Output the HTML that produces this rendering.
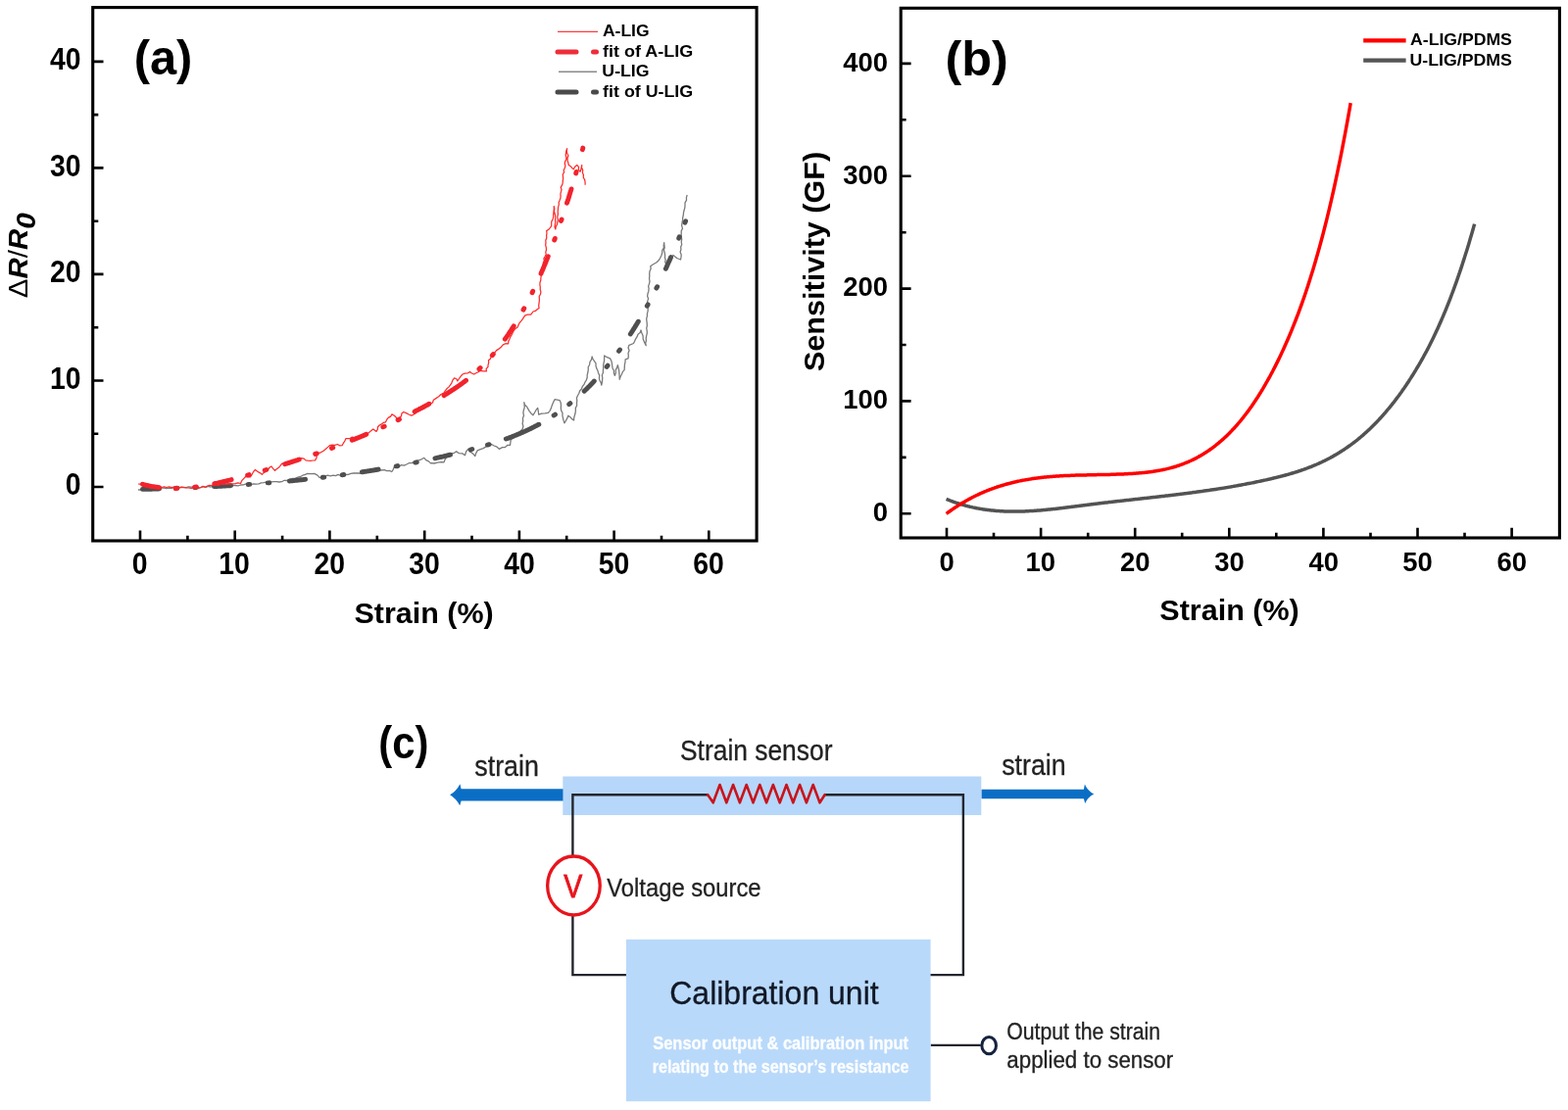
<!DOCTYPE html>
<html><head><meta charset="utf-8"><title>Figure</title><style>
html,body{margin:0;padding:0;background:#fff;overflow:hidden;}
svg{display:block;}
text{font-family:'Liberation Sans', Arial, Helvetica, sans-serif;}
</style></head>
<body><svg width="1600" height="1133" viewBox="0 0 1600 1133">
<rect width="1600" height="1133" fill="#fff"/>
<rect x="94.7" y="7.6" width="677.4" height="544.4" fill="none" stroke="#000" stroke-width="3.1"/>
<path d="M143.0,552.0V541.5 M239.7,552.0V541.5 M336.4,552.0V541.5 M433.2,552.0V541.5 M529.9,552.0V541.5 M626.6,552.0V541.5 M723.3,552.0V541.5 M191.4,552.0V546.8 M288.1,552.0V546.8 M384.8,552.0V546.8 M481.5,552.0V546.8 M578.2,552.0V546.8 M675.0,552.0V546.8 M94.7,497.0H105.5 M94.7,388.5H105.5 M94.7,279.9H105.5 M94.7,171.4H105.5 M94.7,62.9H105.5 M94.7,442.7H100.3 M94.7,334.2H100.3 M94.7,225.7H100.3 M94.7,117.1H100.3" stroke="#000" stroke-width="2.6" fill="none"/>
<text x="134.83" y="585.90" font-size="30.60" font-weight="bold" font-style="normal" fill="#000" textLength="15.78" lengthAdjust="spacingAndGlyphs" >0</text>
<text x="223.33" y="585.90" font-size="30.60" font-weight="bold" font-style="normal" fill="#000" textLength="31.55" lengthAdjust="spacingAndGlyphs" >10</text>
<text x="320.45" y="585.90" font-size="30.60" font-weight="bold" font-style="normal" fill="#000" textLength="31.55" lengthAdjust="spacingAndGlyphs" >20</text>
<text x="417.34" y="585.90" font-size="30.60" font-weight="bold" font-style="normal" fill="#000" textLength="31.55" lengthAdjust="spacingAndGlyphs" >30</text>
<text x="514.17" y="585.90" font-size="30.60" font-weight="bold" font-style="normal" fill="#000" textLength="31.55" lengthAdjust="spacingAndGlyphs" >40</text>
<text x="610.67" y="585.90" font-size="30.60" font-weight="bold" font-style="normal" fill="#000" textLength="31.55" lengthAdjust="spacingAndGlyphs" >50</text>
<text x="707.31" y="585.90" font-size="30.60" font-weight="bold" font-style="normal" fill="#000" textLength="31.55" lengthAdjust="spacingAndGlyphs" >60</text>
<text x="66.69" y="505.20" font-size="30.60" font-weight="bold" font-style="normal" fill="#000" textLength="15.78" lengthAdjust="spacingAndGlyphs" >0</text>
<text x="50.91" y="396.67" font-size="30.60" font-weight="bold" font-style="normal" fill="#000" textLength="31.55" lengthAdjust="spacingAndGlyphs" >10</text>
<text x="50.91" y="288.14" font-size="30.60" font-weight="bold" font-style="normal" fill="#000" textLength="31.55" lengthAdjust="spacingAndGlyphs" >20</text>
<text x="50.91" y="179.61" font-size="30.60" font-weight="bold" font-style="normal" fill="#000" textLength="31.55" lengthAdjust="spacingAndGlyphs" >30</text>
<text x="50.91" y="71.08" font-size="30.60" font-weight="bold" font-style="normal" fill="#000" textLength="31.55" lengthAdjust="spacingAndGlyphs" >40</text>
<text x="361.42" y="636.00" font-size="29.50" font-weight="bold" font-style="normal" fill="#000" textLength="142.30" lengthAdjust="spacingAndGlyphs" >Strain (%)</text>
<text x="136.67" y="76.20" font-size="50.00" font-weight="bold" font-style="normal" fill="#000" textLength="59.66" lengthAdjust="spacingAndGlyphs" >(a)</text>
<g transform="translate(28.4,304.2) rotate(-90)"><text x="0" y="0" font-size="28.5" textLength="87" lengthAdjust="spacingAndGlyphs"><tspan font-weight="normal">&#916;</tspan><tspan font-weight="bold" font-style="italic">R</tspan><tspan font-weight="normal">/</tspan><tspan font-weight="bold" font-style="italic">R</tspan><tspan font-weight="bold" font-style="italic" dy="7.5">0</tspan></text></g>
<path d="M569,32.4H610" stroke="#ff3a3a" stroke-width="1.3"/>
<path d="M569,53H588 M605.5,53H608.5" stroke="#ee2d3a" stroke-width="5" stroke-linecap="round"/>
<path d="M570,73.3H609" stroke="#8a8a8a" stroke-width="1.6"/>
<path d="M569,94H588 M605.5,94H608.5" stroke="#4a4a4a" stroke-width="5" stroke-linecap="round"/>
<text x="614.96" y="37.00" font-size="16.50" font-weight="bold" font-style="normal" fill="#000" textLength="47.62" lengthAdjust="spacingAndGlyphs" >A-LIG</text>
<text x="615.10" y="57.70" font-size="16.50" font-weight="bold" font-style="normal" fill="#000" textLength="92.11" lengthAdjust="spacingAndGlyphs" >fit of A-LIG</text>
<text x="614.33" y="78.40" font-size="16.50" font-weight="bold" font-style="normal" fill="#000" textLength="48.26" lengthAdjust="spacingAndGlyphs" >U-LIG</text>
<text x="615.10" y="98.90" font-size="16.50" font-weight="bold" font-style="normal" fill="#000" textLength="92.11" lengthAdjust="spacingAndGlyphs" >fit of U-LIG</text>
<path d="M141.0,500.0 L144.0,499.8 L147.0,499.7 L150.0,499.0 L152.5,499.3 L155.0,499.4 L157.5,498.9 L160.0,499.1 L162.5,497.7 L165.0,498.2 L167.5,498.1 L170.0,498.7 L172.5,498.2 L175.0,498.5 L177.5,497.3 L180.0,497.8 L182.5,497.7 L185.0,497.3 L187.5,497.7 L190.0,497.7 L192.5,496.9 L195.0,497.1 L197.5,497.1 L200.0,497.4 L202.5,497.9 L205.0,497.6 L207.5,496.6 L210.0,497.4 L212.5,496.4 L215.0,497.0 L217.5,496.2 L220.0,496.6 L222.5,495.8 L225.0,496.8 L227.5,495.8 L230.0,495.7 L232.5,496.6 L235.0,496.3 L237.5,495.3 L240.0,495.5 L242.9,495.8 L245.6,495.0 L248.4,494.8 L251.2,493.9 L254.0,494.0 L256.5,494.4 L259.0,493.9 L261.5,494.1 L264.0,493.8 L266.5,492.8 L269.0,492.7 L271.5,492.2 L274.0,492.5 L276.7,491.8 L279.4,491.6 L282.1,491.7 L284.8,492.0 L287.5,491.7 L290.1,490.3 L293.1,490.5 L295.7,489.3 L298.4,488.5 L301.3,488.4 L304.0,487.2 L306.7,486.5 L308.9,485.2 L311.4,484.4 L313.7,483.4 L317.2,483.7 L320.7,483.4 L323.7,484.9 L326.0,487.4 L328.9,487.3 L331.5,486.0 L334.3,485.1 L337.2,485.8 L340.0,485.2 L342.5,485.6 L345.0,484.4 L347.5,485.5 L350.0,485.0 L352.6,484.5 L355.3,484.4 L357.9,483.3 L360.6,483.0 L363.3,482.9 L366.0,483.0 L368.6,483.3 L370.9,481.9 L373.5,482.4 L376.1,482.3 L378.6,481.9 L381.0,480.8 L383.5,480.5 L386.0,480.4 L388.5,480.0 L392.3,479.6 L394.7,480.6 L397.4,480.3 L399.8,481.5 L401.2,479.4 L402.0,477.0 L404.7,476.8 L407.2,476.3 L409.5,474.6 L412.4,475.2 L414.8,474.0 L417.2,472.7 L420.0,472.5 L424.5,471.5 L427.2,469.9 L430.1,468.8 L432.8,467.3 L434.7,469.6 L437.4,470.9 L439.5,472.9 L440.3,472.6 L442.9,473.0 L445.4,472.3 L447.9,471.9 L450.4,471.7 L453.0,471.8 L454.2,468.8 L456.2,466.2 L458.3,464.3 L460.7,463.0 L463.5,462.3 L465.7,460.7 L468.3,462.7 L471.8,462.9 L474.5,464.7 L475.5,461.2 L477.7,458.3 L479.0,460.6 L481.2,461.9 L483.1,463.6 L484.8,465.5 L485.7,462.6 L487.2,459.9 L490.2,458.7 L493.2,457.6 L495.9,455.9 L498.7,454.6 L501.5,453.5 L504.2,455.0 L507.1,456.2 L509.4,458.3 L512.6,456.7 L515.4,456.5 L517.7,454.5 L520.5,454.3 L520.9,451.5 L521.3,448.8 L523.6,447.3 L524.9,444.7 L527.5,443.5 L529.7,441.9 L531.4,439.7 L533.3,437.7 L533.9,435.0 L533.1,432.3 L533.7,429.6 L533.4,426.9 L534.5,424.2 L533.9,421.5 L534.3,418.8 L535.2,416.1 L535.1,413.4 L534.8,410.7 L535.5,413.2 L537.5,415.0 L538.7,417.1 L540.0,419.3 L541.7,421.7 L543.9,423.7 L545.5,421.3 L546.9,418.7 L548.7,416.4 L549.3,419.8 L549.7,423.2 L552.8,422.1 L556.1,421.8 L559.4,421.3 L561.1,419.3 L562.2,417.1 L563.0,414.6 L563.9,412.2 L564.9,409.9 L566.2,407.7 L571.1,408.6 L572.2,411.1 L572.5,413.7 L572.3,416.4 L572.7,419.1 L574.0,421.5 L573.9,424.2 L574.5,426.8 L575.1,429.4 L575.9,431.9 L577.4,429.4 L578.8,426.9 L579.8,424.2 L581.9,425.7 L583.5,427.6 L585.6,429.0 L585.7,426.4 L586.4,424.0 L587.1,421.5 L587.4,419.0 L587.3,416.4 L588.6,414.0 L588.5,411.4 L588.8,408.9 L588.4,406.2 L589.5,403.8 L590.8,401.5 L591.6,399.0 L593.4,397.0 L594.3,394.5 L596.0,392.4 L597.0,390.0 L598.4,387.8 L599.2,385.3 L599.2,382.6 L599.9,380.0 L600.3,377.4 L600.2,374.7 L601.6,372.2 L602.0,369.3 L603.6,366.8 L604.1,364.0 L605.0,366.5 L606.5,368.7 L608.0,370.8 L608.0,373.4 L608.7,375.9 L609.9,378.2 L610.5,380.7 L611.7,383.1 L611.4,385.8 L611.9,388.3 L613.2,390.6 L613.8,393.1 L614.3,390.6 L614.6,388.1 L614.8,385.6 L614.3,383.0 L615.4,380.6 L615.4,378.1 L615.7,375.6 L615.6,373.0 L616.1,370.5 L616.6,368.1 L616.6,365.5 L616.7,363.0 L619.5,364.7 L622.5,365.9 L623.8,368.2 L624.4,370.8 L624.7,373.4 L625.1,376.0 L626.4,378.3 L626.4,381.0 L627.4,383.4 L628.3,380.8 L628.2,377.9 L629.5,375.4 L630.3,372.7 L631.1,375.6 L631.7,378.5 L631.9,381.4 L632.1,384.3 L632.2,387.3 L633.0,384.7 L634.3,382.3 L635.3,379.7 L637.1,377.6 L637.3,374.9 L637.4,372.2 L638.0,369.6 L638.1,366.9 L641.0,365.9 L641.3,363.2 L641.0,360.4 L642.1,357.8 L641.0,355.0 L641.9,352.3 L646.5,350.5 L647.6,348.2 L648.7,345.8 L650.1,343.7 L651.0,341.2 L653.2,339.5 L654.0,337.0 L654.9,340.0 L656.1,342.8 L656.2,346.0 L657.6,349.4 L659.2,352.7 L658.7,350.2 L659.4,347.7 L659.2,345.2 L659.7,342.7 L660.3,340.2 L660.2,337.6 L659.7,335.1 L660.3,332.6 L660.2,330.1 L659.9,327.6 L659.7,325.1 L660.4,322.6 L660.4,320.1 L661.1,317.6 L661.2,315.0 L660.8,312.5 L660.7,310.0 L660.7,307.4 L661.6,304.9 L660.6,302.3 L661.0,299.7 L661.8,297.2 L662.1,294.7 L661.6,292.1 L662.5,289.6 L663.0,287.1 L662.5,284.5 L662.8,281.9 L662.7,279.3 L663.0,276.8 L664.2,274.3 L663.7,271.7 L666.6,269.7 L669.7,268.0 L672.0,265.9 L673.7,263.3 L675.0,260.5 L675.7,258.0 L675.8,255.3 L677.3,253.0 L677.2,250.3 L677.7,247.7 L677.9,250.2 L678.2,252.8 L677.4,255.3 L678.2,257.8 L678.6,260.4 L678.5,262.9 L679.1,265.4 L678.7,268.0 L681.7,269.5 L683.2,267.3 L684.3,265.0 L685.4,262.6 L687.0,260.5 L690.7,263.5 L694.5,265.0 L695.0,262.4 L695.2,259.9 L694.1,257.3 L694.9,254.7 L694.7,252.1 L695.7,249.6 L695.2,247.0 L695.7,244.2 L695.1,241.4 L695.2,238.6 L695.2,235.8 L696.5,233.1 L695.6,230.3 L696.0,227.5 L696.5,224.9 L696.7,222.2 L697.3,219.7 L697.5,217.0 L698.1,214.5 L698.8,212.1 L699.0,209.5 L699.0,206.8 L700.5,204.3 L700.4,201.6 L701.2,199.0" stroke="#7a7a7a" stroke-width="1.3" fill="none" stroke-linejoin="round"/>
<path d="M145.4,499.4 L146.5,499.4 L147.6,499.4 L148.8,499.3 L150.0,499.3 L151.1,499.3 L152.3,499.2 L153.4,499.2 L154.6,499.2 L155.8,499.1 L156.9,499.1 L158.1,499.1 L159.2,499.0 L160.4,499.0 L161.6,499.0 L162.6,498.9 M179.2,498.4 L180.3,498.3 L180.8,498.3 M198.7,497.6 L199.7,497.5 L200.3,497.5 M218.4,496.6 L219.4,496.6 L220.4,496.5 L221.3,496.5 L222.3,496.4 L223.3,496.4 L224.2,496.3 L225.2,496.3 L226.2,496.2 L227.1,496.1 L228.1,496.1 L229.1,496.0 L230.0,496.0 L231.0,495.9 L232.0,495.9 L232.9,495.8 L233.9,495.7 L234.9,495.7 L235.6,495.6 M253.2,494.5 L254.2,494.4 L254.8,494.4 M273.2,492.9 L274.2,492.9 L274.8,492.8 M295.4,491.0 L296.4,490.9 L297.4,490.8 L298.3,490.7 L299.3,490.6 L300.3,490.5 L301.2,490.4 L302.2,490.3 L303.2,490.2 L304.1,490.1 L305.1,490.0 L306.1,489.9 L307.0,489.8 L308.0,489.7 L309.0,489.6 L309.9,489.5 L310.9,489.4 L311.6,489.3 M329.2,487.3 L330.2,487.2 L330.8,487.1 M349.2,484.7 L350.2,484.6 L350.8,484.5 M369.4,481.8 L370.3,481.7 L371.3,481.5 L372.2,481.4 L373.2,481.2 L374.2,481.1 L375.1,480.9 L376.1,480.8 L377.1,480.6 L378.0,480.4 L379.0,480.3 L380.0,480.1 L380.9,480.0 L381.9,479.8 L382.9,479.7 L383.8,479.5 L384.8,479.3 L385.8,479.2 L386.1,479.1 M404.2,475.9 L405.1,475.8 L405.8,475.6 M423.7,472.1 L424.6,472.0 L425.3,471.8 M443.9,467.8 L444.8,467.6 L445.7,467.4 L446.7,467.2 L447.7,467.0 L448.6,466.7 L449.6,466.5 L450.6,466.3 L451.5,466.1 L452.5,465.9 L453.5,465.6 L454.4,465.4 L455.4,465.2 L456.4,464.9 L457.3,464.7 L458.3,464.5 L459.3,464.2 L459.6,464.2 M480.2,459.0 L481.1,458.7 L481.8,458.5 M497.5,454.1 L498.3,453.9 L499.1,453.7 M516.3,448.0 L517.1,447.7 L517.9,447.5 L518.7,447.2 L519.4,446.9 L520.2,446.6 L521.0,446.3 L521.8,446.0 L522.5,445.7 L523.3,445.4 L524.1,445.1 L524.9,444.8 L525.6,444.5 L526.4,444.2 L527.2,443.9 L527.9,443.5 L528.7,443.2 L529.5,442.9 L530.3,442.6 L531.0,442.2 L531.8,441.9 L532.6,441.6 L533.4,441.2 L534.1,440.9 L534.9,440.5 L535.7,440.2 L536.5,439.8 L537.2,439.5 L538.0,439.1 L538.8,438.8 L539.6,438.4 L540.3,438.0 L541.1,437.7 L541.9,437.3 L542.6,436.9 L543.4,436.5 L544.2,436.1 L545.0,435.7 L545.7,435.3 L546.5,434.9 L547.3,434.5 L548.1,434.1 L548.8,433.7 L549.6,433.3 L549.9,433.2 M565.1,424.0 L565.9,423.5 L566.5,423.1 M580.7,412.7 L581.3,412.2 L581.9,411.7 L581.9,411.7 M596.2,399.2 L596.8,398.6 L597.4,398.1 L598.0,397.5 L598.6,396.9 L599.1,396.4 L599.7,395.8 L600.3,395.2 L600.9,394.6 L601.5,394.1 L602.0,393.5 L602.6,392.9 L603.2,392.3 L603.8,391.7 L604.4,391.1 L604.9,390.5 L605.5,389.9 L606.1,389.2 L606.3,389.0 M619.1,374.4 L619.6,373.8 L620.1,373.2 M631.5,358.3 L632.0,357.6 L632.5,357.0 M643.3,341.0 L643.8,340.2 L644.4,339.3 L645.0,338.4 L645.6,337.5 L645.9,336.9 L646.3,336.3 L646.7,335.7 L647.1,335.0 L647.5,334.4 L647.9,333.8 L648.3,333.2 L648.7,332.5 L649.0,331.9 L649.4,331.3 L649.8,330.6 L650.2,330.0 L650.6,329.3 L651.0,328.7 L651.3,328.2 M660.3,312.3 L660.8,311.4 L661.1,310.9 M669.8,294.1 L670.3,293.2 L670.6,292.7 M679.3,274.3 L679.8,273.3 L680.2,272.4 L680.6,271.5 L681.0,270.7 L681.3,269.8 L681.7,269.0 L682.1,268.1 L682.5,267.2 L682.9,266.4 L683.3,265.5 L683.7,264.6 L684.1,263.7 L684.4,262.8 L684.5,262.7 M692.7,243.2 L693.1,242.1 L693.3,241.7 M699.0,227.2 L699.3,226.4 L699.6,225.7" stroke="#4f4f4f" stroke-width="4.9" fill="none" stroke-linecap="round" stroke-linejoin="round"/>
<path d="M141.0,494.0 L143.3,494.2 L145.6,494.5 L147.7,495.7 L150.0,496.0 L152.6,495.7 L155.0,496.8 L157.5,496.9 L160.0,497.5 L162.5,496.8 L165.0,497.5 L167.5,496.8 L170.0,497.5 L172.5,496.9 L175.0,497.6 L177.5,497.0 L180.0,497.5 L182.5,498.2 L185.0,497.1 L187.5,497.3 L190.0,497.8 L192.5,498.0 L195.0,498.4 L197.5,497.8 L200.0,497.4 L202.5,498.3 L205.0,497.5 L207.1,496.4 L209.5,497.3 L211.5,496.0 L213.7,495.3 L216.0,495.5 L218.3,494.6 L220.6,494.7 L223.1,495.3 L225.3,494.0 L227.7,494.4 L230.0,494.0 L232.5,494.1 L235.0,493.6 L237.5,493.8 L240.0,493.6 L242.7,492.9 L245.5,493.5 L246.7,490.7 L248.6,488.6 L250.7,486.5 L255.0,487.0 L256.6,485.3 L257.6,483.2 L258.8,481.2 L260.4,479.5 L262.7,481.2 L265.1,482.6 L267.4,484.3 L269.1,482.4 L271.5,481.3 L273.4,479.6 L274.8,477.4 L277.0,476.0 L278.7,478.3 L280.5,480.4 L282.3,478.7 L284.4,477.3 L286.0,475.4 L287.5,473.4 L289.8,472.5 L292.4,472.9 L294.5,471.0 L297.0,471.0 L299.1,470.2 L301.4,470.1 L303.2,468.5 L305.5,468.3 L307.6,467.7 L310.1,468.1 L312.0,469.9 L314.4,470.2 L316.8,470.3 L319.2,470.0 L321.6,469.9 L323.1,467.0 L323.4,463.7 L325.5,462.3 L327.9,461.6 L330.0,460.2 L332.2,458.5 L334.3,456.6 L336.4,454.7 L339.0,454.2 L341.7,454.4 L344.3,453.5 L346.5,454.8 L349.1,454.7 L350.4,452.3 L351.9,450.0 L353.0,447.5 L357.0,447.5 L359.1,446.2 L361.6,446.6 L363.8,445.9 L366.0,445.0 L368.7,445.0 L371.1,444.0 L373.4,442.4 L376.0,442.0 L378.3,439.9 L380.8,438.0 L384.0,440.4 L385.3,438.4 L385.5,435.8 L387.2,434.0 L389.3,432.9 L391.2,431.4 L393.5,430.8 L394.6,428.4 L396.2,426.4 L398.6,425.1 L399.9,422.9 L402.4,424.3 L404.4,426.3 L406.3,428.5 L407.5,426.4 L409.5,424.8 L409.9,422.1 L411.8,420.5 L414.5,421.6 L417.1,423.0 L419.8,424.1 L421.9,423.2 L423.6,421.8 L425.0,420.0 L427.3,419.2 L428.8,417.2 L430.9,416.1 L433.0,415.0 L435.0,413.9 L437.4,413.7 L439.2,412.2 L441.5,411.0 L442.3,408.3 L444.5,406.9 L447.7,404.8 L450.0,402.5 L453.0,401.0 L454.3,398.8 L455.9,396.8 L457.8,395.1 L459.4,393.2 L460.9,390.8 L461.9,388.1 L463.6,385.8 L465.8,386.8 L466.8,388.9 L468.4,386.5 L470.1,384.2 L472.0,382.0 L474.5,381.2 L477.2,381.0 L479.5,379.4 L481.4,381.0 L483.7,382.0 L485.8,380.8 L488.1,379.7 L490.1,378.3 L493.2,378.9 L496.4,378.9 L496.1,376.5 L497.9,374.6 L498.1,372.3 L498.7,370.1 L498.5,367.8 L500.4,366.2 L501.4,363.8 L503.0,362.0 L504.9,359.9 L506.6,357.6 L509.1,356.1 L511.4,354.2 L513.3,351.9 L515.8,350.7 L518.6,350.8 L518.8,348.4 L519.9,346.3 L520.7,344.1 L521.9,342.1 L523.0,340.0 L524.2,337.5 L525.9,335.4 L528.2,333.9 L529.1,331.5 L530.3,329.3 L532.0,327.4 L533.5,325.4 L535.6,322.2 L538.5,321.0 L541.7,321.2 L544.0,318.0 L546.3,317.4 L548.2,315.8 L550.1,314.5 L549.7,312.1 L550.0,309.7 L550.3,307.4 L550.4,305.0 L550.2,302.6 L551.5,300.3 L551.9,297.9 L551.2,295.5 L551.3,293.1 L550.9,290.7 L551.0,288.3 L551.8,286.0 L551.9,283.8 L552.2,281.5 L553.5,279.5 L552.8,277.1 L553.0,274.9 L554.8,272.9 L554.5,270.6 L554.3,268.3 L555.3,266.2 L554.9,263.9 L556.1,261.8 L557.2,259.7 L556.8,257.4 L557.5,255.0 L557.3,252.6 L556.7,250.1 L557.0,247.7 L556.8,245.3 L557.8,242.9 L557.6,240.4 L558.0,238.0 L557.7,235.6 L560.2,234.0 L562.7,230.6 L562.7,228.3 L562.8,226.1 L564.0,224.0 L564.6,221.8 L564.6,219.5 L564.9,217.3 L565.1,215.0 L565.3,212.8 L565.2,210.5 L565.8,212.8 L565.5,215.2 L565.9,217.5 L566.6,219.8 L566.8,222.2 L566.6,224.6 L566.8,226.9 L566.3,229.3 L566.0,231.7 L566.9,234.0 L567.2,231.5 L568.4,229.1 L568.9,226.6 L569.3,224.1 L568.8,221.4 L569.4,218.9 L569.2,216.3 L569.4,213.8 L569.6,211.3 L570.3,208.8 L570.2,206.5 L571.1,204.4 L571.9,202.3 L572.1,200.1 L571.9,197.8 L572.5,195.7 L573.0,193.5 L572.2,191.1 L573.5,189.1 L574.2,186.9 L574.3,184.7 L574.6,182.5 L574.5,180.2 L574.3,178.0 L575.6,175.9 L575.2,173.6 L576.3,171.5 L576.9,169.4 L576.3,167.0 L576.6,164.9 L577.8,162.8 L577.8,160.5 L577.2,158.2 L577.5,156.0 L577.8,153.8 L578.7,151.7 L578.3,154.2 L578.7,156.5 L579.9,158.8 L579.1,161.3 L579.1,163.8 L579.8,166.1 L580.3,168.5 L582.2,169.7 L583.7,171.4 L585.4,172.7 L586.6,170.2 L588.7,168.5 L590.5,170.4 L590.3,173.3 L592.1,175.2 L592.9,173.0 L593.3,170.7 L593.8,168.5 L593.5,171.1 L594.7,173.5 L594.4,176.2 L595.4,178.6 L595.3,181.2 L596.7,183.6 L597.1,186.1 L597.1,188.7" stroke="#ff2a2a" stroke-width="1.25" fill="none" stroke-linejoin="round"/>
<path d="M145.4,494.3 L146.3,494.5 L147.3,494.8 L148.2,495.0 L149.2,495.3 L150.2,495.5 L151.1,495.7 L152.1,495.9 L153.1,496.1 L154.0,496.3 L155.0,496.5 L156.0,496.6 L156.9,496.8 L157.9,496.9 L158.9,497.1 L159.8,497.2 L160.8,497.4 L161.8,497.5 L162.6,497.6 M179.2,498.5 L180.3,498.4 L180.8,498.4 M198.7,497.1 L199.7,497.0 L200.3,496.9 M218.8,493.7 L219.8,493.5 L220.8,493.3 L221.7,493.1 L222.7,492.9 L223.7,492.6 L224.6,492.4 L225.6,492.2 L226.6,492.0 L227.5,491.7 L228.5,491.5 L229.5,491.3 L230.4,491.0 L231.4,490.8 L232.4,490.5 L233.3,490.3 L234.3,490.1 L235.3,489.8 L236.1,489.6 M252.6,485.1 L253.5,484.8 L254.2,484.6 M270.2,480.0 L271.1,479.7 L271.8,479.5 M290.7,473.7 L291.6,473.4 L292.3,473.2 L293.1,473.0 L293.9,472.7 L294.7,472.5 L295.4,472.2 L296.2,472.0 L297.0,471.7 L297.8,471.5 L298.5,471.2 L299.3,471.0 L300.1,470.7 L300.8,470.5 L301.6,470.2 L302.4,470.0 L303.2,469.7 L303.9,469.4 L304.7,469.2 L305.3,469.0 M321.7,463.4 L322.5,463.1 L323.3,462.9 M338.4,457.4 L339.1,457.1 L339.8,456.9 M359.3,449.3 L360.0,449.0 L360.8,448.7 L361.6,448.4 L362.4,448.1 L363.1,447.8 L363.9,447.4 L364.7,447.1 L365.5,446.8 L366.2,446.5 L367.0,446.2 L367.8,445.9 L368.6,445.5 L369.3,445.2 L370.1,444.9 L370.9,444.6 L371.6,444.2 L372.4,443.9 L373.2,443.6 L373.8,443.3 M390.8,435.8 L391.6,435.5 L392.2,435.2 M406.1,428.7 L406.9,428.3 L407.5,428.0 M423.1,420.2 L423.9,419.8 L424.6,419.3 L425.4,418.9 L426.2,418.5 L427.0,418.1 L427.7,417.7 L428.5,417.3 L429.3,416.9 L430.1,416.5 L430.8,416.1 L431.6,415.7 L432.4,415.3 L433.2,414.8 L433.9,414.4 L434.7,414.0 L435.5,413.6 L436.3,413.2 L437.0,412.7 L437.8,412.3 L437.9,412.3 M453.1,403.6 L453.9,403.1 L454.6,402.6 L455.4,402.2 L456.2,401.7 L457.0,401.2 L457.7,400.7 L458.5,400.2 L459.3,399.7 L460.0,399.2 L460.8,398.7 L461.6,398.2 L462.4,397.7 L463.1,397.2 L463.9,396.7 L464.7,396.2 L465.5,395.6 L466.2,395.1 L467.0,394.6 L467.8,394.0 L468.6,393.5 L469.3,392.9 L469.9,392.5 L470.5,392.1 L471.1,391.6 L471.7,391.2 L472.2,390.8 L472.8,390.3 L473.4,389.9 L474.0,389.5 L474.6,389.0 L475.1,388.6 L475.5,388.3 M488.9,376.7 L489.5,376.2 L490.0,375.7 L490.1,375.6 M502.3,362.7 L502.8,362.1 L503.3,361.5 M515.3,346.1 L515.8,345.5 L516.3,344.7 L516.9,343.9 L517.5,343.0 L518.1,342.2 L518.7,341.3 L519.2,340.5 L519.8,339.6 L520.4,338.7 L521.0,337.9 L521.6,337.0 L522.1,336.1 L522.7,335.2 L523.3,334.3 L523.9,333.4 L524.2,332.9 M534.0,316.2 L534.5,315.3 L534.8,314.8 M543.1,298.7 L543.4,298.0 L543.7,297.3 M552.0,279.3 L552.3,278.5 L552.7,277.6 L553.1,276.7 L553.5,275.8 L553.9,274.9 L554.3,274.0 L554.6,273.1 L555.0,272.2 L555.4,271.2 L555.8,270.3 L556.2,269.4 L556.6,268.4 L557.0,267.5 L557.3,266.5 L557.7,265.6 L558.1,264.6 L558.5,263.7 L558.9,262.7 L559.3,261.7 L559.3,261.7 M565.7,244.9 L566.1,244.0 L566.3,243.4 M572.5,225.5 L572.8,224.7 L573.1,224.0 M578.5,207.2 L578.8,206.4 L579.2,205.1 L579.6,203.9 L580.0,202.7 L580.4,201.4 L580.8,200.2 L581.1,198.9 L581.5,197.7 L581.9,196.4 L582.3,195.1 L582.7,193.9 L583.0,192.9 M587.7,176.9 L587.9,176.1 L588.1,175.4 M594.4,152.7 L594.7,151.6 L594.8,151.1" stroke="#f2232d" stroke-width="4.9" fill="none" stroke-linecap="round" stroke-linejoin="round"/>
<rect x="919.2" y="8.3" width="672.2" height="540.7" fill="none" stroke="#000" stroke-width="3.1"/>
<path d="M966.0,549.0V538.8 M1062.1,549.0V538.8 M1158.2,549.0V538.8 M1254.3,549.0V538.8 M1350.4,549.0V538.8 M1446.5,549.0V538.8 M1542.6,549.0V538.8 M1014.0,549.0V543.8 M1110.2,549.0V543.8 M1206.2,549.0V543.8 M1302.3,549.0V543.8 M1398.5,549.0V543.8 M1494.5,549.0V543.8 M919.2,524.3H929.6 M919.2,409.4H929.6 M919.2,294.6H929.6 M919.2,179.7H929.6 M919.2,64.9H929.6 M919.2,466.9H924.6 M919.2,352.0H924.6 M919.2,237.2H924.6 M919.2,122.3H924.6" stroke="#000" stroke-width="2.6" fill="none"/>
<text x="958.39" y="582.50" font-size="28.30" font-weight="bold" font-style="normal" fill="#000" textLength="15.27" lengthAdjust="spacingAndGlyphs" >0</text>
<text x="1046.53" y="582.50" font-size="28.30" font-weight="bold" font-style="normal" fill="#000" textLength="30.53" lengthAdjust="spacingAndGlyphs" >10</text>
<text x="1143.02" y="582.50" font-size="28.30" font-weight="bold" font-style="normal" fill="#000" textLength="30.53" lengthAdjust="spacingAndGlyphs" >20</text>
<text x="1239.28" y="582.50" font-size="28.30" font-weight="bold" font-style="normal" fill="#000" textLength="30.53" lengthAdjust="spacingAndGlyphs" >30</text>
<text x="1335.49" y="582.50" font-size="28.30" font-weight="bold" font-style="normal" fill="#000" textLength="30.53" lengthAdjust="spacingAndGlyphs" >40</text>
<text x="1431.37" y="582.50" font-size="28.30" font-weight="bold" font-style="normal" fill="#000" textLength="30.53" lengthAdjust="spacingAndGlyphs" >50</text>
<text x="1527.39" y="582.50" font-size="28.30" font-weight="bold" font-style="normal" fill="#000" textLength="30.53" lengthAdjust="spacingAndGlyphs" >60</text>
<text x="890.66" y="532.10" font-size="28.30" font-weight="bold" font-style="normal" fill="#000" textLength="15.27" lengthAdjust="spacingAndGlyphs" >0</text>
<text x="860.13" y="417.25" font-size="28.30" font-weight="bold" font-style="normal" fill="#000" textLength="45.80" lengthAdjust="spacingAndGlyphs" >100</text>
<text x="860.13" y="302.40" font-size="28.30" font-weight="bold" font-style="normal" fill="#000" textLength="45.80" lengthAdjust="spacingAndGlyphs" >200</text>
<text x="860.13" y="187.55" font-size="28.30" font-weight="bold" font-style="normal" fill="#000" textLength="45.80" lengthAdjust="spacingAndGlyphs" >300</text>
<text x="860.13" y="72.70" font-size="28.30" font-weight="bold" font-style="normal" fill="#000" textLength="45.80" lengthAdjust="spacingAndGlyphs" >400</text>
<text x="1183.32" y="633.00" font-size="29.50" font-weight="bold" font-style="normal" fill="#000" textLength="142.40" lengthAdjust="spacingAndGlyphs" >Strain (%)</text>
<text x="964.49" y="76.70" font-size="49.50" font-weight="bold" font-style="normal" fill="#000" textLength="64.32" lengthAdjust="spacingAndGlyphs" >(b)</text>
<g transform="translate(840.6,0) rotate(-90)">
<text x="-379.08" y="0.00" font-size="29.50" font-weight="bold" font-style="normal" fill="#000" textLength="224.20" lengthAdjust="spacingAndGlyphs" >Sensitivity (GF)</text>
</g>
<path d="M1391.2,41.3H1434.6" stroke="#ff0000" stroke-width="4.2"/>
<path d="M1391.2,61.6H1434.6" stroke="#555" stroke-width="4.2"/>
<text x="1439.06" y="45.90" font-size="16.50" font-weight="bold" font-style="normal" fill="#000" textLength="103.83" lengthAdjust="spacingAndGlyphs" >A-LIG/PDMS</text>
<text x="1438.43" y="66.60" font-size="16.50" font-weight="bold" font-style="normal" fill="#000" textLength="104.46" lengthAdjust="spacingAndGlyphs" >U-LIG/PDMS</text>
<path d="M965.6,509.4 L966.6,509.8 L967.6,510.2 L968.6,510.6 L969.6,511.0 L970.6,511.4 L971.6,511.8 L972.6,512.1 L973.6,512.5 L974.6,512.8 L975.6,513.2 L976.6,513.5 L977.6,513.8 L978.6,514.1 L979.6,514.5 L980.6,514.8 L981.6,515.1 L982.6,515.3 L983.6,515.6 L984.6,515.9 L985.6,516.2 L986.6,516.4 L987.6,516.7 L988.6,516.9 L989.6,517.2 L990.6,517.4 L991.6,517.6 L992.6,517.9 L993.6,518.1 L994.6,518.3 L995.6,518.5 L996.6,518.7 L997.6,518.9 L998.6,519.1 L999.6,519.2 L1000.6,519.4 L1001.6,519.6 L1002.6,519.7 L1003.6,519.9 L1004.6,520.0 L1005.6,520.2 L1006.6,520.3 L1007.6,520.5 L1008.6,520.6 L1009.6,520.7 L1010.6,520.8 L1011.6,520.9 L1012.6,521.0 L1013.6,521.1 L1014.6,521.2 L1015.6,521.3 L1016.6,521.4 L1017.6,521.5 L1018.6,521.6 L1019.6,521.6 L1020.6,521.7 L1021.6,521.7 L1022.6,521.8 L1023.6,521.8 L1024.6,521.9 L1025.6,521.9 L1026.6,522.0 L1027.6,522.0 L1028.6,522.0 L1029.6,522.0 L1030.6,522.1 L1031.6,522.1 L1032.6,522.1 L1033.6,522.1 L1034.6,522.1 L1035.6,522.1 L1036.6,522.1 L1037.6,522.1 L1038.6,522.1 L1039.6,522.1 L1040.6,522.0 L1041.6,522.0 L1042.6,522.0 L1043.6,522.0 L1044.6,521.9 L1045.6,521.9 L1046.6,521.8 L1047.6,521.8 L1048.6,521.7 L1049.6,521.7 L1050.6,521.6 L1051.6,521.6 L1052.6,521.5 L1053.6,521.5 L1054.6,521.4 L1055.6,521.3 L1056.6,521.3 L1057.6,521.2 L1058.6,521.1 L1059.6,521.0 L1060.6,521.0 L1061.6,520.9 L1062.6,520.8 L1063.6,520.7 L1064.6,520.6 L1065.6,520.5 L1066.6,520.4 L1067.6,520.3 L1068.6,520.2 L1069.6,520.1 L1070.6,520.0 L1071.6,519.9 L1072.6,519.8 L1073.6,519.7 L1074.6,519.6 L1075.6,519.5 L1076.6,519.4 L1077.6,519.3 L1078.6,519.2 L1079.6,519.0 L1080.6,518.9 L1081.6,518.8 L1082.6,518.7 L1083.6,518.6 L1084.6,518.4 L1085.6,518.3 L1086.6,518.2 L1087.6,518.1 L1088.6,518.0 L1089.6,517.8 L1090.6,517.7 L1091.6,517.6 L1092.6,517.4 L1093.6,517.3 L1094.6,517.2 L1095.6,517.1 L1096.6,516.9 L1097.6,516.8 L1098.6,516.7 L1099.6,516.6 L1100.6,516.4 L1101.6,516.3 L1102.6,516.2 L1103.6,516.0 L1104.6,515.9 L1105.6,515.8 L1106.6,515.7 L1107.6,515.5 L1108.6,515.4 L1109.6,515.3 L1110.6,515.2 L1111.6,515.0 L1112.6,514.9 L1113.6,514.8 L1114.6,514.7 L1115.6,514.5 L1116.6,514.4 L1117.6,514.3 L1118.6,514.2 L1119.6,514.1 L1120.6,513.9 L1121.6,513.8 L1122.6,513.7 L1123.6,513.6 L1124.6,513.5 L1125.6,513.3 L1126.6,513.2 L1127.6,513.1 L1128.6,513.0 L1129.6,512.9 L1130.6,512.8 L1131.6,512.6 L1132.6,512.5 L1133.6,512.4 L1134.6,512.3 L1135.6,512.2 L1136.6,512.1 L1137.6,512.0 L1138.6,511.8 L1139.6,511.7 L1140.6,511.6 L1141.6,511.5 L1142.6,511.4 L1143.6,511.3 L1144.6,511.2 L1145.6,511.1 L1146.6,510.9 L1147.6,510.8 L1148.6,510.7 L1149.6,510.6 L1150.6,510.5 L1151.6,510.4 L1152.6,510.3 L1153.6,510.2 L1154.6,510.1 L1155.6,509.9 L1156.6,509.8 L1157.6,509.7 L1158.6,509.6 L1159.6,509.5 L1160.6,509.4 L1161.6,509.3 L1162.6,509.2 L1163.6,509.1 L1164.6,509.0 L1165.6,508.8 L1166.6,508.7 L1167.6,508.6 L1168.6,508.5 L1169.6,508.4 L1170.6,508.3 L1171.6,508.2 L1172.6,508.1 L1173.6,507.9 L1174.6,507.8 L1175.6,507.7 L1176.6,507.6 L1177.6,507.5 L1178.6,507.4 L1179.6,507.3 L1180.6,507.2 L1181.6,507.0 L1182.6,506.9 L1183.6,506.8 L1184.6,506.7 L1185.6,506.6 L1186.6,506.5 L1187.6,506.4 L1188.6,506.2 L1189.6,506.1 L1190.6,506.0 L1191.6,505.9 L1192.6,505.8 L1193.6,505.7 L1194.6,505.5 L1195.6,505.4 L1196.6,505.3 L1197.6,505.2 L1198.6,505.1 L1199.6,504.9 L1200.6,504.8 L1201.6,504.7 L1202.6,504.6 L1203.6,504.4 L1204.6,504.3 L1205.6,504.2 L1206.6,504.1 L1207.6,503.9 L1208.6,503.8 L1209.6,503.7 L1210.6,503.6 L1211.6,503.4 L1212.6,503.3 L1213.6,503.2 L1214.6,503.0 L1215.6,502.9 L1216.6,502.8 L1217.6,502.6 L1218.6,502.5 L1219.6,502.4 L1220.6,502.2 L1221.6,502.1 L1222.6,502.0 L1223.6,501.8 L1224.6,501.7 L1225.6,501.6 L1226.6,501.4 L1227.6,501.3 L1228.6,501.1 L1229.6,501.0 L1230.6,500.8 L1231.6,500.7 L1232.6,500.6 L1233.6,500.4 L1234.6,500.3 L1235.6,500.1 L1236.6,500.0 L1237.6,499.8 L1238.6,499.7 L1239.6,499.5 L1240.6,499.4 L1241.6,499.2 L1242.6,499.1 L1243.6,498.9 L1244.6,498.7 L1245.6,498.6 L1246.6,498.4 L1247.6,498.3 L1248.6,498.1 L1249.6,497.9 L1250.6,497.8 L1251.6,497.6 L1252.6,497.4 L1253.6,497.3 L1254.6,497.1 L1255.6,496.9 L1256.6,496.8 L1257.6,496.6 L1258.6,496.4 L1259.6,496.2 L1260.6,496.1 L1261.6,495.9 L1262.6,495.7 L1263.6,495.5 L1264.6,495.3 L1265.6,495.2 L1266.6,495.0 L1267.6,494.8 L1268.6,494.6 L1269.6,494.4 L1270.6,494.2 L1271.6,494.0 L1272.6,493.8 L1273.6,493.6 L1274.6,493.5 L1275.6,493.3 L1276.6,493.1 L1277.6,492.9 L1278.6,492.7 L1279.6,492.5 L1280.6,492.2 L1281.6,492.0 L1282.6,491.8 L1283.6,491.6 L1284.6,491.4 L1285.6,491.2 L1286.6,491.0 L1287.6,490.8 L1288.6,490.6 L1289.6,490.3 L1290.6,490.1 L1291.6,489.9 L1292.6,489.7 L1293.6,489.4 L1294.6,489.2 L1295.6,489.0 L1296.6,488.8 L1297.6,488.5 L1298.6,488.3 L1299.6,488.0 L1300.6,487.8 L1301.6,487.6 L1302.6,487.3 L1303.6,487.1 L1304.6,486.8 L1305.6,486.6 L1306.6,486.3 L1307.6,486.1 L1308.6,485.8 L1309.6,485.5 L1310.6,485.3 L1311.6,485.0 L1312.6,484.7 L1313.6,484.4 L1314.6,484.2 L1315.6,483.9 L1316.6,483.6 L1317.6,483.3 L1318.6,483.0 L1319.6,482.7 L1320.6,482.4 L1321.6,482.1 L1322.6,481.8 L1323.6,481.5 L1324.6,481.1 L1325.6,480.8 L1326.6,480.5 L1327.6,480.1 L1328.6,479.8 L1329.6,479.4 L1330.6,479.1 L1331.6,478.7 L1332.6,478.4 L1333.6,478.0 L1334.6,477.6 L1335.6,477.2 L1336.6,476.8 L1337.6,476.5 L1338.6,476.1 L1339.6,475.7 L1340.6,475.2 L1341.6,474.8 L1342.6,474.4 L1343.6,474.0 L1344.6,473.5 L1345.6,473.1 L1346.6,472.6 L1347.6,472.2 L1348.6,471.7 L1349.6,471.2 L1350.6,470.7 L1351.6,470.3 L1352.6,469.8 L1353.6,469.3 L1354.6,468.7 L1355.6,468.2 L1356.6,467.7 L1357.6,467.2 L1358.6,466.6 L1359.6,466.1 L1360.6,465.5 L1361.6,464.9 L1362.6,464.4 L1363.6,463.8 L1364.6,463.2 L1365.6,462.6 L1366.6,462.0 L1367.6,461.3 L1368.6,460.7 L1369.6,460.1 L1370.6,459.4 L1371.6,458.8 L1372.6,458.1 L1373.6,457.4 L1374.6,456.7 L1375.6,456.0 L1376.6,455.3 L1377.6,454.6 L1378.6,453.9 L1379.6,453.1 L1380.6,452.4 L1381.6,451.6 L1382.6,450.8 L1383.6,450.1 L1384.6,449.3 L1385.6,448.5 L1386.6,447.6 L1387.6,446.8 L1388.6,446.0 L1389.6,445.1 L1390.6,444.3 L1391.6,443.4 L1392.6,442.5 L1393.6,441.6 L1394.6,440.7 L1395.6,439.8 L1396.6,438.9 L1397.6,437.9 L1398.6,437.0 L1399.6,436.0 L1400.6,435.0 L1401.6,434.0 L1402.6,433.0 L1403.6,432.0 L1404.6,431.0 L1405.6,429.9 L1406.6,428.9 L1407.6,427.8 L1408.6,426.7 L1409.6,425.6 L1410.6,424.5 L1411.6,423.4 L1412.6,422.2 L1413.6,421.1 L1414.6,419.9 L1415.6,418.7 L1416.6,417.5 L1417.6,416.3 L1418.6,415.1 L1419.6,413.9 L1420.6,412.6 L1421.6,411.3 L1422.6,410.1 L1423.6,408.8 L1424.6,407.4 L1425.6,406.1 L1426.6,404.8 L1427.6,403.4 L1428.6,402.0 L1429.6,400.7 L1430.6,399.3 L1431.6,397.8 L1432.6,396.4 L1433.6,394.9 L1434.6,393.5 L1435.6,392.0 L1436.6,390.5 L1437.6,389.0 L1438.6,387.4 L1439.6,385.9 L1440.6,384.3 L1441.6,382.7 L1442.6,381.1 L1443.6,379.5 L1444.6,377.9 L1445.6,376.2 L1446.6,374.5 L1447.6,372.8 L1448.6,371.1 L1449.6,369.4 L1450.6,367.6 L1451.6,365.8 L1452.6,364.0 L1453.6,362.2 L1454.6,360.3 L1455.6,358.5 L1456.6,356.6 L1457.6,354.7 L1458.6,352.7 L1459.6,350.7 L1460.6,348.7 L1461.6,346.7 L1462.6,344.7 L1463.6,342.6 L1464.6,340.5 L1465.6,338.3 L1466.6,336.2 L1467.6,334.0 L1468.6,331.8 L1469.6,329.5 L1470.6,327.2 L1471.6,324.9 L1472.6,322.6 L1473.6,320.2 L1474.6,317.8 L1475.6,315.3 L1476.6,312.9 L1477.6,310.4 L1478.6,307.8 L1479.6,305.3 L1480.6,302.7 L1481.6,300.0 L1482.6,297.3 L1483.6,294.6 L1484.6,291.9 L1485.6,289.1 L1486.6,286.3 L1487.6,283.4 L1488.6,280.5 L1489.6,277.6 L1490.6,274.6 L1491.6,271.6 L1492.6,268.5 L1493.6,265.4 L1494.6,262.3 L1495.6,259.1 L1496.6,255.9 L1497.6,252.7 L1498.6,249.4 L1499.6,246.0 L1500.6,242.6 L1501.6,239.2 L1502.6,235.7 L1503.6,232.2 L1504.6,228.6" stroke="#535353" stroke-width="3.5" fill="none"/>
<path d="M965.6,524.4 L966.6,523.7 L967.6,522.9 L968.6,522.2 L969.6,521.5 L970.6,520.8 L971.6,520.1 L972.6,519.4 L973.6,518.7 L974.6,518.1 L975.6,517.4 L976.6,516.8 L977.6,516.1 L978.6,515.5 L979.6,514.9 L980.6,514.2 L981.6,513.6 L982.6,513.0 L983.6,512.5 L984.6,511.9 L985.6,511.3 L986.6,510.7 L987.6,510.2 L988.6,509.6 L989.6,509.1 L990.6,508.6 L991.6,508.0 L992.6,507.5 L993.6,507.0 L994.6,506.5 L995.6,506.0 L996.6,505.5 L997.6,505.1 L998.6,504.6 L999.6,504.1 L1000.6,503.7 L1001.6,503.2 L1002.6,502.8 L1003.6,502.4 L1004.6,501.9 L1005.6,501.5 L1006.6,501.1 L1007.6,500.7 L1008.6,500.3 L1009.6,499.9 L1010.6,499.5 L1011.6,499.2 L1012.6,498.8 L1013.6,498.4 L1014.6,498.1 L1015.6,497.7 L1016.6,497.4 L1017.6,497.0 L1018.6,496.7 L1019.6,496.4 L1020.6,496.1 L1021.6,495.8 L1022.6,495.5 L1023.6,495.2 L1024.6,494.9 L1025.6,494.6 L1026.6,494.3 L1027.6,494.0 L1028.6,493.7 L1029.6,493.5 L1030.6,493.2 L1031.6,493.0 L1032.6,492.7 L1033.6,492.5 L1034.6,492.2 L1035.6,492.0 L1036.6,491.8 L1037.6,491.5 L1038.6,491.3 L1039.6,491.1 L1040.6,490.9 L1041.6,490.7 L1042.6,490.5 L1043.6,490.3 L1044.6,490.1 L1045.6,489.9 L1046.6,489.8 L1047.6,489.6 L1048.6,489.4 L1049.6,489.3 L1050.6,489.1 L1051.6,488.9 L1052.6,488.8 L1053.6,488.6 L1054.6,488.5 L1055.6,488.3 L1056.6,488.2 L1057.6,488.1 L1058.6,487.9 L1059.6,487.8 L1060.6,487.7 L1061.6,487.6 L1062.6,487.5 L1063.6,487.3 L1064.6,487.2 L1065.6,487.1 L1066.6,487.0 L1067.6,486.9 L1068.6,486.8 L1069.6,486.7 L1070.6,486.7 L1071.6,486.6 L1072.6,486.5 L1073.6,486.4 L1074.6,486.3 L1075.6,486.2 L1076.6,486.2 L1077.6,486.1 L1078.6,486.0 L1079.6,486.0 L1080.6,485.9 L1081.6,485.8 L1082.6,485.8 L1083.6,485.7 L1084.6,485.7 L1085.6,485.6 L1086.6,485.6 L1087.6,485.5 L1088.6,485.5 L1089.6,485.4 L1090.6,485.4 L1091.6,485.4 L1092.6,485.3 L1093.6,485.3 L1094.6,485.2 L1095.6,485.2 L1096.6,485.2 L1097.6,485.1 L1098.6,485.1 L1099.6,485.1 L1100.6,485.1 L1101.6,485.0 L1102.6,485.0 L1103.6,485.0 L1104.6,485.0 L1105.6,484.9 L1106.6,484.9 L1107.6,484.9 L1108.6,484.9 L1109.6,484.8 L1110.6,484.8 L1111.6,484.8 L1112.6,484.8 L1113.6,484.8 L1114.6,484.7 L1115.6,484.7 L1116.6,484.7 L1117.6,484.7 L1118.6,484.7 L1119.6,484.6 L1120.6,484.6 L1121.6,484.6 L1122.6,484.6 L1123.6,484.6 L1124.6,484.5 L1125.6,484.5 L1126.6,484.5 L1127.6,484.5 L1128.6,484.5 L1129.6,484.4 L1130.6,484.4 L1131.6,484.4 L1132.6,484.4 L1133.6,484.3 L1134.6,484.3 L1135.6,484.3 L1136.6,484.2 L1137.6,484.2 L1138.6,484.2 L1139.6,484.1 L1140.6,484.1 L1141.6,484.1 L1142.6,484.0 L1143.6,484.0 L1144.6,484.0 L1145.6,483.9 L1146.6,483.9 L1147.6,483.8 L1148.6,483.8 L1149.6,483.7 L1150.6,483.7 L1151.6,483.6 L1152.6,483.6 L1153.6,483.5 L1154.6,483.4 L1155.6,483.4 L1156.6,483.3 L1157.6,483.2 L1158.6,483.2 L1159.6,483.1 L1160.6,483.0 L1161.6,482.9 L1162.6,482.8 L1163.6,482.8 L1164.6,482.7 L1165.6,482.6 L1166.6,482.5 L1167.6,482.4 L1168.6,482.3 L1169.6,482.2 L1170.6,482.0 L1171.6,481.9 L1172.6,481.8 L1173.6,481.7 L1174.6,481.5 L1175.6,481.4 L1176.6,481.3 L1177.6,481.1 L1178.6,481.0 L1179.6,480.8 L1180.6,480.6 L1181.6,480.5 L1182.6,480.3 L1183.6,480.1 L1184.6,479.9 L1185.6,479.7 L1186.6,479.5 L1187.6,479.3 L1188.6,479.1 L1189.6,478.9 L1190.6,478.6 L1191.6,478.4 L1192.6,478.1 L1193.6,477.9 L1194.6,477.6 L1195.6,477.3 L1196.6,477.1 L1197.6,476.8 L1198.6,476.5 L1199.6,476.2 L1200.6,475.9 L1201.6,475.5 L1202.6,475.2 L1203.6,474.9 L1204.6,474.5 L1205.6,474.2 L1206.6,473.8 L1207.6,473.4 L1208.6,473.0 L1209.6,472.6 L1210.6,472.2 L1211.6,471.8 L1212.6,471.4 L1213.6,470.9 L1214.6,470.5 L1215.6,470.0 L1216.6,469.6 L1217.6,469.1 L1218.6,468.6 L1219.6,468.1 L1220.6,467.6 L1221.6,467.0 L1222.6,466.5 L1223.6,465.9 L1224.6,465.4 L1225.6,464.8 L1226.6,464.2 L1227.6,463.6 L1228.6,463.0 L1229.6,462.3 L1230.6,461.7 L1231.6,461.0 L1232.6,460.4 L1233.6,459.7 L1234.6,459.0 L1235.6,458.3 L1236.6,457.6 L1237.6,456.8 L1238.6,456.1 L1239.6,455.3 L1240.6,454.5 L1241.6,453.7 L1242.6,452.9 L1243.6,452.1 L1244.6,451.2 L1245.6,450.4 L1246.6,449.5 L1247.6,448.6 L1248.6,447.7 L1249.6,446.8 L1250.6,445.9 L1251.6,444.9 L1252.6,443.9 L1253.6,443.0 L1254.6,442.0 L1255.6,440.9 L1256.6,439.9 L1257.6,438.8 L1258.6,437.8 L1259.6,436.7 L1260.6,435.6 L1261.6,434.5 L1262.6,433.3 L1263.6,432.2 L1264.6,431.0 L1265.6,429.8 L1266.6,428.6 L1267.6,427.3 L1268.6,426.1 L1269.6,424.8 L1270.6,423.5 L1271.6,422.2 L1272.6,420.9 L1273.6,419.6 L1274.6,418.2 L1275.6,416.8 L1276.6,415.4 L1277.6,414.0 L1278.6,412.5 L1279.6,411.0 L1280.6,409.6 L1281.6,408.0 L1282.6,406.5 L1283.6,405.0 L1284.6,403.4 L1285.6,401.8 L1286.6,400.2 L1287.6,398.5 L1288.6,396.9 L1289.6,395.2 L1290.6,393.5 L1291.6,391.7 L1292.6,390.0 L1293.6,388.2 L1294.6,386.4 L1295.6,384.6 L1296.6,382.7 L1297.6,380.8 L1298.6,379.0 L1299.6,377.0 L1300.6,375.1 L1301.6,373.1 L1302.6,371.1 L1303.6,369.1 L1304.6,367.1 L1305.6,365.0 L1306.6,362.9 L1307.6,360.8 L1308.6,358.6 L1309.6,356.5 L1310.6,354.3 L1311.6,352.0 L1312.6,349.8 L1313.6,347.5 L1314.6,345.2 L1315.6,342.8 L1316.6,340.5 L1317.6,338.1 L1318.6,335.6 L1319.6,333.2 L1320.6,330.7 L1321.6,328.1 L1322.6,325.5 L1323.6,322.9 L1324.6,320.3 L1325.6,317.6 L1326.6,314.9 L1327.6,312.1 L1328.6,309.3 L1329.6,306.5 L1330.6,303.6 L1331.6,300.7 L1332.6,297.8 L1333.6,294.8 L1334.6,291.7 L1335.6,288.6 L1336.6,285.5 L1337.6,282.3 L1338.6,279.1 L1339.6,275.9 L1340.6,272.6 L1341.6,269.2 L1342.6,265.8 L1343.6,262.3 L1344.6,258.8 L1345.6,255.2 L1346.6,251.6 L1347.6,248.0 L1348.6,244.2 L1349.6,240.5 L1350.6,236.6 L1351.6,232.7 L1352.6,228.8 L1353.6,224.8 L1354.6,220.7 L1355.6,216.6 L1356.6,212.4 L1357.6,208.1 L1358.6,203.8 L1359.6,199.4 L1360.6,195.0 L1361.6,190.5 L1362.6,185.9 L1363.6,181.2 L1364.6,176.5 L1365.6,171.7 L1366.6,166.9 L1367.6,162.0 L1368.6,157.0 L1369.6,151.9 L1370.6,146.7 L1371.6,141.5 L1372.6,136.2 L1373.6,130.8 L1374.6,125.4 L1375.6,119.9 L1376.6,114.3 L1377.6,108.6 L1378.2,105.1" stroke="#ff0000" stroke-width="3.5" fill="none"/>
<text x="386.31" y="773.60" font-size="45.60" font-weight="bold" font-style="normal" fill="#000" textLength="51.17" lengthAdjust="spacingAndGlyphs" >(c)</text>
<rect x="574.3" y="792.5" width="427" height="39.5" fill="#b6d7f9"/>
<path d="M574.5,805.3H470.6L469.4,800.2Q465.6,807.6 459.1,811.3Q465.6,815.2 469.2,822.3L470.6,817.5H574.5Z" fill="#0b6ec5"/>
<path d="M1001.6,805.7H1105.9L1106.9,800.4Q1109.9,807.2 1116.2,810.4Q1109.9,813.6 1107.2,820.1L1105.9,815.3H1001.6Z" fill="#0b6ec5"/>
<path d="M584.4,873V811.3H722.4 M841.6,811.3H982.9V995.1H948.5 M584.4,935V995.1H639 M949.7,1066.9H1000.8" stroke="#23262d" stroke-width="2.4" fill="none"/>
<path d="M722.2,811.2 L727.7,819.3 L734.5,801.0 L741.3,819.3 L748.1,801.0 L754.9,819.3 L761.7,801.0 L768.5,819.3 L775.3,801.0 L782.1,819.3 L788.9,801.0 L795.7,819.3 L802.5,801.0 L809.3,819.3 L816.1,801.0 L822.9,819.3 L829.7,801.0 L836.5,819.3 L841.6,811.2" stroke="#c8141d" stroke-width="2.6" fill="none" stroke-linejoin="round" stroke-linecap="round"/>
<text x="484.25" y="791.90" font-size="30.00" font-weight="normal" font-style="normal" fill="#222" textLength="65.69" lengthAdjust="spacingAndGlyphs" stroke="#222" stroke-width="0.3">strain</text>
<text x="1022.15" y="791.30" font-size="30.00" font-weight="normal" font-style="normal" fill="#222" textLength="65.59" lengthAdjust="spacingAndGlyphs" stroke="#222" stroke-width="0.3">strain</text>
<text x="694.00" y="776.30" font-size="29.00" font-weight="normal" font-style="normal" fill="#222" textLength="155.44" lengthAdjust="spacingAndGlyphs" stroke="#222" stroke-width="0.3">Strain sensor</text>
<ellipse cx="585.45" cy="904" rx="26.8" ry="30" fill="#fff" stroke="#e8141c" stroke-width="3.3"/>
<text x="575.17" y="916.20" font-size="33.00" font-weight="normal" font-style="normal" fill="#e8141c" textLength="19.05" lengthAdjust="spacingAndGlyphs" stroke="#e8141c" stroke-width="0.8">V</text>
<text x="619.30" y="914.60" font-size="26.00" font-weight="normal" font-style="normal" fill="#222" textLength="157.25" lengthAdjust="spacingAndGlyphs" stroke="#222" stroke-width="0.3">Voltage source</text>
<rect x="638.9" y="958.9" width="310.7" height="165.3" fill="#b9d9fa"/>
<text x="683.28" y="1025.20" font-size="34.00" font-weight="normal" font-style="normal" fill="#111826" textLength="213.36" lengthAdjust="spacingAndGlyphs" stroke="#111826" stroke-width="0.3">Calibration unit</text>
<text x="666.23" y="1070.60" font-size="19.00" font-weight="bold" font-style="normal" fill="#fbfdff" textLength="260.88" lengthAdjust="spacingAndGlyphs" stroke="#fbfdff" stroke-width="0.35">Sensor output &amp; calibration input</text>
<text x="665.64" y="1094.80" font-size="19.00" font-weight="bold" font-style="normal" fill="#fbfdff" textLength="261.81" lengthAdjust="spacingAndGlyphs" stroke="#fbfdff" stroke-width="0.35">relating to the sensor’s resistance</text>
<ellipse cx="1009.15" cy="1067.15" rx="7.3" ry="8.7" fill="#fff" stroke="#15233f" stroke-width="3"/>
<text x="1027.30" y="1061.00" font-size="23.50" font-weight="normal" font-style="normal" fill="#222" textLength="156.78" lengthAdjust="spacingAndGlyphs" stroke="#222" stroke-width="0.3">Output the strain</text>
<text x="1027.35" y="1090.30" font-size="23.50" font-weight="normal" font-style="normal" fill="#222" textLength="169.82" lengthAdjust="spacingAndGlyphs" stroke="#222" stroke-width="0.3">applied to sensor</text>
</svg></body></html>
